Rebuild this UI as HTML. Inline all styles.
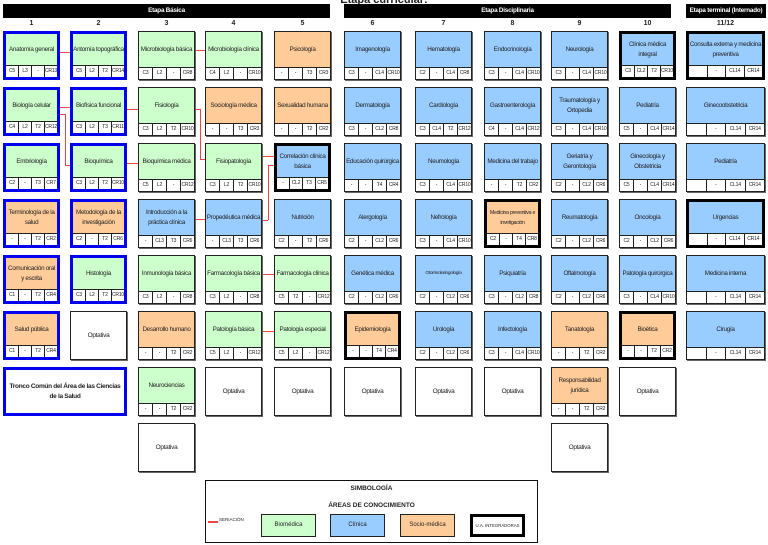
<!DOCTYPE html>
<html><head><meta charset="utf-8">
<style>
body{margin:0;width:768px;height:545px;background:#fff;position:relative;overflow:hidden;font-family:"Liberation Sans",sans-serif;color:#222}
.bar{position:absolute;top:4px;height:14px;background:#000;color:#fff;font-size:6.3px;font-weight:bold;text-align:center;line-height:14px;white-space:nowrap;overflow:hidden;letter-spacing:-0.2px}
.num{position:absolute;top:20px;font-size:7px;font-weight:bold;text-align:center;width:57px}
.b{position:absolute;width:57px;height:49px;box-sizing:border-box;border:1px solid #222;box-shadow:1px 1px 0 #666;display:flex;flex-direction:column;background:#fff}
.w{width:79px}
.bl{border:3px solid #0000ee;box-shadow:none}
.th{border:3px solid #000;box-shadow:none}
.g{background:#ccffcc}.c{background:#99ccff}.s{background:#ffcc99}
.n{flex:1;display:flex;align-items:center;justify-content:center;text-align:center;font-size:6.3px;line-height:10px;letter-spacing:-0.3px;padding:0;overflow:hidden}
.f{height:12px;display:flex;background:#fff;border-top:1px solid #222;box-sizing:border-box}
.f span{flex:1;border-left:1px solid #222;font-size:5px;text-align:center;line-height:11px;overflow:hidden;white-space:nowrap;letter-spacing:-0.2px}
.f span:first-child{border-left:none}
.o .n{font-size:6.5px}
.r{position:absolute;background:#ee4444}
.h{height:1px}.v{width:1px}
</style></head><body>
<div style="position:absolute;top:-6px;left:0;width:768px;text-align:center;font-size:11px;font-weight:bold">Etapa curricular:</div>
<div class="bar" style="left:3px;width:327px">Etapa Básica</div>
<div class="bar" style="left:344px;width:327px">Etapa Disciplinaria</div>
<div class="bar" style="left:686px;width:80px">Etapa terminal (Internado)</div>
<div class="num" style="left:3px">1</div><div class="num" style="left:70px">2</div><div class="num" style="left:138px">3</div><div class="num" style="left:205px">4</div><div class="num" style="left:274px">5</div><div class="num" style="left:344px">6</div><div class="num" style="left:415px">7</div><div class="num" style="left:484px">8</div><div class="num" style="left:551px">9</div><div class="num" style="left:619px">10</div><div class="num" style="left:697px">11/12</div>

<!-- connectors -->
<div class="r h" style="left:60px;top:52px;width:10px"></div>
<div class="r h" style="left:195px;top:50px;width:10px"></div>
<div class="r h" style="left:60px;top:107px;width:10px"></div>
<div class="r h" style="left:127px;top:109px;width:11px"></div>
<div class="r h" style="left:60px;top:114px;width:5px"></div>
<div class="r v" style="left:65px;top:114px;height:51px"></div>
<div class="r h" style="left:65px;top:165px;width:5px"></div>
<div class="r h" style="left:127px;top:163px;width:11px"></div>
<div class="r h" style="left:195px;top:109px;width:5px"></div>
<div class="r v" style="left:200px;top:109px;height:50px"></div>
<div class="r h" style="left:200px;top:159px;width:5px"></div>
<div class="r h" style="left:262px;top:156px;width:12px"></div>
<div class="r h" style="left:268px;top:165px;width:6px"></div>
<div class="r v" style="left:268px;top:165px;height:55px"></div>
<div class="r h" style="left:262px;top:220px;width:6px"></div>
<div class="r h" style="left:195px;top:219px;width:10px"></div>
<div class="r h" style="left:262px;top:274px;width:12px"></div>
<div class="r h" style="left:262px;top:331px;width:12px"></div>

<!-- col1 -->
<div class="b g bl" style="left:3px;top:31px"><div class="n">Anatomía general</div><div class="f"><span>C5</span><span>L3</span><span>-</span><span>CR13</span></div></div>
<div class="b g bl" style="left:3px;top:87px"><div class="n">Biología celular</div><div class="f"><span>C4</span><span>L2</span><span>T2</span><span>CR12</span></div></div>
<div class="b g bl" style="left:3px;top:143px"><div class="n">Embriología</div><div class="f"><span>C2</span><span>-</span><span>T3</span><span>CR7</span></div></div>
<div class="b s bl" style="left:3px;top:199px"><div class="n">Terminología de la salud</div><div class="f"><span>-</span><span>-</span><span>T2</span><span>CR2</span></div></div>
<div class="b s bl" style="left:3px;top:255px"><div class="n">Comunicación oral y escrita</div><div class="f"><span>C1</span><span>-</span><span>T2</span><span>CR4</span></div></div>
<div class="b s bl" style="left:3px;top:311px"><div class="n">Salud pública</div><div class="f"><span>C1</span><span>-</span><span>T2</span><span>CR4</span></div></div>
<div class="b bl" style="left:3px;top:367px;width:124px"><div class="n" style="font-weight:bold;font-size:6.5px">Tronco Común del Área de las Ciencias de la Salud</div></div>
<!-- col2 -->
<div class="b g bl" style="left:70px;top:31px"><div class="n">Antomía topográfica</div><div class="f"><span>C5</span><span>L2</span><span>T2</span><span>CR14</span></div></div>
<div class="b g bl" style="left:70px;top:87px"><div class="n">Biofísica funcional</div><div class="f"><span>C3</span><span>L2</span><span>T3</span><span>CR11</span></div></div>
<div class="b g bl" style="left:70px;top:143px"><div class="n">Bioquímica</div><div class="f"><span>C3</span><span>L2</span><span>T2</span><span>CR10</span></div></div>
<div class="b s bl" style="left:70px;top:199px"><div class="n">Metodología de la investigación</div><div class="f"><span>C2</span><span>-</span><span>T2</span><span>CR6</span></div></div>
<div class="b g bl" style="left:70px;top:255px"><div class="n">Histología</div><div class="f"><span>C3</span><span>L2</span><span>T2</span><span>CR10</span></div></div>
<div class="b o" style="left:70px;top:311px"><div class="n">Optativa</div></div>
<!-- col3 -->
<div class="b g" style="left:138px;top:31px"><div class="n">Microbiología básica</div><div class="f"><span>C3</span><span>L2</span><span>-</span><span>CR8</span></div></div>
<div class="b g" style="left:138px;top:87px"><div class="n">Fisiología</div><div class="f"><span>C3</span><span>L2</span><span>T2</span><span>CR10</span></div></div>
<div class="b g" style="left:138px;top:143px"><div class="n">Bioquímica médica</div><div class="f"><span>C5</span><span>L2</span><span>-</span><span>CR12</span></div></div>
<div class="b c" style="left:138px;top:199px"><div class="n">Introducción a la práctica clínica</div><div class="f"><span>-</span><span>CL3</span><span>T3</span><span>CR6</span></div></div>
<div class="b g" style="left:138px;top:255px"><div class="n">Inmunología básica</div><div class="f"><span>C3</span><span>L2</span><span>-</span><span>CR8</span></div></div>
<div class="b s" style="left:138px;top:311px"><div class="n">Desarrollo humano</div><div class="f"><span>-</span><span>-</span><span>T2</span><span>CR2</span></div></div>
<div class="b g" style="left:138px;top:367px"><div class="n">Neurociencias</div><div class="f"><span>-</span><span>-</span><span>T2</span><span>CR2</span></div></div>
<div class="b o" style="left:138px;top:423px"><div class="n">Optativa</div></div>
<!-- col4 -->
<div class="b g" style="left:205px;top:31px"><div class="n">Microbiología clínica</div><div class="f"><span>C4</span><span>L2</span><span>-</span><span>CR10</span></div></div>
<div class="b s" style="left:205px;top:87px"><div class="n">Sociología médica</div><div class="f"><span>-</span><span>-</span><span>T3</span><span>CR3</span></div></div>
<div class="b g" style="left:205px;top:143px"><div class="n">Fisiopatología</div><div class="f"><span>C3</span><span>L2</span><span>T2</span><span>CR10</span></div></div>
<div class="b c" style="left:205px;top:199px"><div class="n">Propedéutica médica</div><div class="f"><span>-</span><span>CL3</span><span>T3</span><span>CR6</span></div></div>
<div class="b g" style="left:205px;top:255px"><div class="n">Farmacología básica</div><div class="f"><span>C3</span><span>L2</span><span>-</span><span>CR8</span></div></div>
<div class="b g" style="left:205px;top:311px"><div class="n">Patología básica</div><div class="f"><span>C5</span><span>L2</span><span>-</span><span>CR12</span></div></div>
<div class="b o" style="left:205px;top:367px"><div class="n">Optativa</div></div>
<!-- col5 -->
<div class="b s" style="left:274px;top:31px"><div class="n">Psicología</div><div class="f"><span>-</span><span>-</span><span>T3</span><span>CR3</span></div></div>
<div class="b s" style="left:274px;top:87px"><div class="n">Sexualidad humana</div><div class="f"><span>-</span><span>-</span><span>T2</span><span>CR2</span></div></div>
<div class="b c th" style="left:274px;top:143px"><div class="n">Correlación clínica básica</div><div class="f"><span>-</span><span>CL2</span><span>T3</span><span>CR5</span></div></div>
<div class="b c" style="left:274px;top:199px"><div class="n">Nutrición</div><div class="f"><span>C2</span><span>-</span><span>T2</span><span>CR6</span></div></div>
<div class="b g" style="left:274px;top:255px"><div class="n">Farmacología clínica</div><div class="f"><span>C5</span><span>T2</span><span>-</span><span>CR12</span></div></div>
<div class="b g" style="left:274px;top:311px"><div class="n">Patología especial</div><div class="f"><span>C5</span><span>L2</span><span>-</span><span>CR12</span></div></div>
<div class="b o" style="left:274px;top:367px"><div class="n">Optativa</div></div>
<!-- col6 -->
<div class="b c" style="left:344px;top:31px"><div class="n">Imagenología</div><div class="f"><span>C3</span><span>-</span><span>CL4</span><span>CR10</span></div></div>
<div class="b c" style="left:344px;top:87px"><div class="n">Dermatología</div><div class="f"><span>C3</span><span>-</span><span>CL2</span><span>CR8</span></div></div>
<div class="b c" style="left:344px;top:143px"><div class="n">Educación quirúrgica</div><div class="f"><span>-</span><span>-</span><span>T4</span><span>CR4</span></div></div>
<div class="b c" style="left:344px;top:199px"><div class="n">Alergología</div><div class="f"><span>C2</span><span>-</span><span>CL2</span><span>CR6</span></div></div>
<div class="b c" style="left:344px;top:255px"><div class="n">Genética médica</div><div class="f"><span>C2</span><span>-</span><span>CL2</span><span>CR6</span></div></div>
<div class="b s th" style="left:344px;top:311px"><div class="n">Epidemiología</div><div class="f"><span>-</span><span>-</span><span>T4</span><span>CR4</span></div></div>
<div class="b o" style="left:344px;top:367px"><div class="n">Optativa</div></div>
<!-- col7 -->
<div class="b c" style="left:415px;top:31px"><div class="n">Hematología</div><div class="f"><span>C2</span><span>-</span><span>CL4</span><span>CR8</span></div></div>
<div class="b c" style="left:415px;top:87px"><div class="n">Cardiología</div><div class="f"><span>C3</span><span>CL4</span><span>T2</span><span>CR12</span></div></div>
<div class="b c" style="left:415px;top:143px"><div class="n">Neumología</div><div class="f"><span>C3</span><span>-</span><span>CL4</span><span>CR10</span></div></div>
<div class="b c" style="left:415px;top:199px"><div class="n">Nefrología</div><div class="f"><span>C3</span><span>-</span><span>CL4</span><span>CR10</span></div></div>
<div class="b c" style="left:415px;top:255px"><div class="n" style="font-size:4.8px">Otorrinolaringología</div><div class="f"><span>C2</span><span>-</span><span>CL2</span><span>CR6</span></div></div>
<div class="b c" style="left:415px;top:311px"><div class="n">Urología</div><div class="f"><span>C2</span><span>-</span><span>CL2</span><span>CR6</span></div></div>
<div class="b o" style="left:415px;top:367px"><div class="n">Optativa</div></div>
<!-- col8 -->
<div class="b c" style="left:484px;top:31px"><div class="n">Endocrinología</div><div class="f"><span>C3</span><span>-</span><span>CL4</span><span>CR10</span></div></div>
<div class="b c" style="left:484px;top:87px"><div class="n">Gastroenterología</div><div class="f"><span>C4</span><span>-</span><span>CL4</span><span>CR12</span></div></div>
<div class="b c" style="left:484px;top:143px"><div class="n">Medicina del trabajo</div><div class="f"><span>-</span><span>-</span><span>T2</span><span>CR2</span></div></div>
<div class="b s th" style="left:484px;top:199px"><div class="n" style="font-size:5.3px">Medicina preventiva e invetigación</div><div class="f"><span>C2</span><span>-</span><span>T4</span><span>CR8</span></div></div>
<div class="b c" style="left:484px;top:255px"><div class="n">Psiquiatría</div><div class="f"><span>C3</span><span>-</span><span>CL2</span><span>CR8</span></div></div>
<div class="b c" style="left:484px;top:311px"><div class="n">Infectología</div><div class="f"><span>C3</span><span>-</span><span>CL4</span><span>CR10</span></div></div>
<div class="b o" style="left:484px;top:367px"><div class="n">Optativa</div></div>
<!-- col9 -->
<div class="b c" style="left:551px;top:31px"><div class="n">Neurología</div><div class="f"><span>C3</span><span>-</span><span>CL4</span><span>CR10</span></div></div>
<div class="b c" style="left:551px;top:87px"><div class="n">Traumatología y Ortopedia</div><div class="f"><span>C3</span><span>-</span><span>CL4</span><span>CR10</span></div></div>
<div class="b c" style="left:551px;top:143px"><div class="n">Geriatría y Gerontología</div><div class="f"><span>C2</span><span>-</span><span>CL2</span><span>CR6</span></div></div>
<div class="b c" style="left:551px;top:199px"><div class="n">Reumatología</div><div class="f"><span>C2</span><span>-</span><span>CL2</span><span>CR6</span></div></div>
<div class="b c" style="left:551px;top:255px"><div class="n">Oftalmología</div><div class="f"><span>C2</span><span>-</span><span>CL2</span><span>CR6</span></div></div>
<div class="b s" style="left:551px;top:311px"><div class="n">Tanatología</div><div class="f"><span>-</span><span>-</span><span>T2</span><span>CR2</span></div></div>
<div class="b s" style="left:551px;top:367px"><div class="n">Responsabilidad jurídica</div><div class="f"><span>-</span><span>-</span><span>T2</span><span>CR2</span></div></div>
<div class="b o" style="left:551px;top:423px"><div class="n">Optativa</div></div>
<!-- col10 -->
<div class="b c th" style="left:619px;top:31px"><div class="n">Clínica médica integral</div><div class="f"><span>C3</span><span>CL2</span><span>T2</span><span>CR10</span></div></div>
<div class="b c" style="left:619px;top:87px"><div class="n">Pediatría</div><div class="f"><span>C5</span><span>-</span><span>CL4</span><span>CR14</span></div></div>
<div class="b c" style="left:619px;top:143px"><div class="n">Ginecología y Obstetricia</div><div class="f"><span>C5</span><span>-</span><span>CL4</span><span>CR14</span></div></div>
<div class="b c" style="left:619px;top:199px"><div class="n">Oncología</div><div class="f"><span>C2</span><span>-</span><span>CL2</span><span>CR6</span></div></div>
<div class="b c" style="left:619px;top:255px"><div class="n">Patología quirúrgica</div><div class="f"><span>C3</span><span>-</span><span>CL4</span><span>CR10</span></div></div>
<div class="b s th" style="left:619px;top:311px"><div class="n">Bioética</div><div class="f"><span>-</span><span>-</span><span>T2</span><span>CR2</span></div></div>
<div class="b o" style="left:619px;top:367px"><div class="n">Optativa</div></div>
<!-- col11 -->
<div class="b c w th" style="left:686px;top:31px"><div class="n">Consulta externa y medicina preventiva</div><div class="f"><span></span><span>-</span><span>CL14</span><span>CR14</span></div></div>
<div class="b c w" style="left:686px;top:87px"><div class="n">Ginecoobstetricia</div><div class="f"><span></span><span>-</span><span>CL14</span><span>CR14</span></div></div>
<div class="b c w" style="left:686px;top:143px"><div class="n">Pediatría</div><div class="f"><span></span><span>-</span><span>CL14</span><span>CR14</span></div></div>
<div class="b c w th" style="left:686px;top:199px"><div class="n">Urgencias</div><div class="f"><span></span><span>-</span><span>CL14</span><span>CR14</span></div></div>
<div class="b c w" style="left:686px;top:255px"><div class="n">Medicina interna</div><div class="f"><span></span><span>-</span><span>CL14</span><span>CR14</span></div></div>
<div class="b c w" style="left:686px;top:311px"><div class="n">Cirugía</div><div class="f"><span></span><span>-</span><span>CL14</span><span>CR14</span></div></div>

<!-- legend -->
<div style="position:absolute;left:205px;top:480px;width:333px;height:63px;box-sizing:border-box;border:1.5px solid #111"></div>
<div style="position:absolute;left:205px;top:485px;width:333px;text-align:center;font-size:6.5px;font-weight:bold">SIMBOLOGÍA</div>
<div style="position:absolute;left:205px;top:502px;width:333px;text-align:center;font-size:6.5px;font-weight:bold">ÁREAS DE CONOCIMIENTO</div>
<div class="r" style="left:208px;top:521px;width:10px;height:1.5px"></div>
<div style="position:absolute;left:219px;top:517px;font-size:4.5px">SERIACIÓN</div>
<div style="position:absolute;left:261px;top:514px;width:55px;height:23px;box-sizing:border-box;border:1px solid #222;background:#ccffcc;font-size:6px;text-align:center;line-height:21px">Biomédica</div>
<div style="position:absolute;left:330px;top:514px;width:55px;height:23px;box-sizing:border-box;border:1px solid #222;background:#99ccff;font-size:6px;text-align:center;line-height:21px">Clínica</div>
<div style="position:absolute;left:400px;top:514px;width:55px;height:23px;box-sizing:border-box;border:1px solid #222;background:#ffcc99;font-size:6px;text-align:center;line-height:21px">Socio-médica</div>
<div style="position:absolute;left:470px;top:514px;width:55px;height:23px;box-sizing:border-box;border:3px solid #000;background:#fff;font-size:4.3px;text-align:center;line-height:17px;white-space:nowrap">U.A. INTEGRADORAS</div>
</body></html>
